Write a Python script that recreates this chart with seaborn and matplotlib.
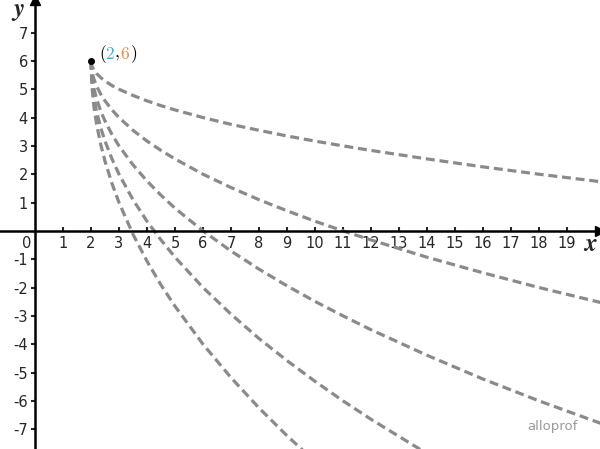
import numpy as np
import pandas as pd
import matplotlib
matplotlib.use("Agg")
import matplotlib.pyplot as plt
import seaborn as sns

x_vals = [2, 2.03, 2.1, 2.2, 2.35, 2.5, 2.75, 3, 3.5, 4, 4.5, 5, 6, 7, 8, 9,
          10, 11, 12, 14, 16, 18, 20.5]

# y readings per dashed curve (all start at the point (2, 6))
curve_1 = [6, 5.83, 5.68, 5.55, 5.41, 5.29, 5.13, 5, 4.78, 4.59, 4.42, 4.27, 4,
           3.76, 3.55, 3.35, 3.17, 3, 2.84, 2.54, 2.26, 2, 1.70]
curve_2 = [6, 5.65, 5.37, 5.11, 4.82, 4.59, 4.27, 4, 3.55, 3.17, 2.84, 2.54, 2,
           1.53, 1.10, 0.71, 0.34, 0, -0.32, -0.93, -1.48, -2, -2.60]
curve_3 = [6, 5.48, 5.05, 4.66, 4.22, 3.88, 3.40, 3, 2.33, 1.76, 1.26, 0.80, 0,
           -0.71, -1.35, -1.94, -2.49, -3, -3.49, -4.39, -5.23, -6, -6.90]
curve_4 = [6, 5.31, 4.74, 4.21, 3.63, 3.17, 2.54, 2, 1.10, 0.34, -0.32, -0.93,
           -2, -2.94, -3.80, -4.58, -5.31, -6, -6.65, -7.86]
curve_5 = [6, 5.14, 4.42, 3.76, 3.04, 2.46, 1.67, 1, -0.12, -1.07, -1.91, -2.66,
           -4, -5.18, -6.25, -7.23, -8.14]

x_ticks = list(range(1, 20))
y_ticks = [-7, -6, -5, -4, -3, -2, -1, 1, 2, 3, 4, 5, 6, 7]
point = (2, 6)

rows = []
for name, ys in [("c1", curve_1), ("c2", curve_2), ("c3", curve_3),
                 ("c4", curve_4), ("c5", curve_5)]:
    for xv, yv in zip(x_vals, ys):
        rows.append({"curve": name, "x": xv, "y": yv})
df = pd.DataFrame(rows)

sns.set_style("white")
plt.rcParams["font.family"] = ["DejaVu Sans"]
plt.rcParams["mathtext.fontset"] = "cm"

fig = plt.figure(figsize=(6, 4.49), dpi=100)
ax = fig.add_axes([0, 0, 1, 1])

sns.lineplot(data=df, x="x", y="y", units="curve", estimator=None, sort=False,
             color="#8a8a8a", linewidth=2.3, dashes=False, ax=ax, legend=False)
for line in ax.get_lines():
    line.set_linestyle((0, (2.8, 1.5)))

ax.plot(*point, "o", color="black", markersize=4, zorder=5)

ax.set_xlim(-1.25, 20.18)
ax.set_ylim(-7.7, 8.15)

for side in ["top", "right"]:
    ax.spines[side].set_visible(False)
for side in ["left", "bottom"]:
    ax.spines[side].set_position(("data", 0))
    ax.spines[side].set_linewidth(1.8)
    ax.spines[side].set_color("black")

ax.set_xticks(x_ticks)
ax.set_yticks(y_ticks)
ax.set_xticklabels([str(t) for t in x_ticks])
ax.set_yticklabels([str(t) for t in y_ticks])
ax.tick_params(axis="x", direction="in", length=3, width=1.5, pad=4,
               labelsize=10.5, bottom=True)
ax.tick_params(axis="y", direction="out", length=3, width=1.5, pad=2,
               labelsize=10.5, left=True)
ax.set_xlabel("")
ax.set_ylabel("")

# axis arrows
ax.plot(1.0, 0, ">", transform=ax.get_yaxis_transform(), color="black",
        markersize=7, clip_on=False)
ax.plot(0, 1.0, "^", transform=ax.get_xaxis_transform(), color="black",
        markersize=7, clip_on=False)

ax.text(-0.3, -0.45, "0", ha="center", va="center", fontsize=10.5)
ax.text(19.85, -0.45, r"$\boldsymbol{x}$", ha="center", va="center", fontsize=18)
ax.text(-0.6, 7.75, r"$\boldsymbol{y}$", ha="center", va="center", fontsize=18)

# point label (2, 6) with coloured coordinates
parts = [("(", "black", 0), ("2", "#3fb3c8", 4.5), (",", "black", 11),
         ("6", "#f5833a", 15.5), (")", "black", 22.5)]
for txt, col, dx in parts:
    ax.annotate(f"${txt}$", xy=point, xytext=(5.5 + dx, 5),
                textcoords="offset points", color=col, fontsize=12.5,
                ha="left", va="center")

ax.text(0.962, 0.05, "alloprof", transform=ax.transAxes, ha="right",
        va="center", fontsize=9.5, color="#9a9a9a")

fig.savefig("out.png", dpi=100)
